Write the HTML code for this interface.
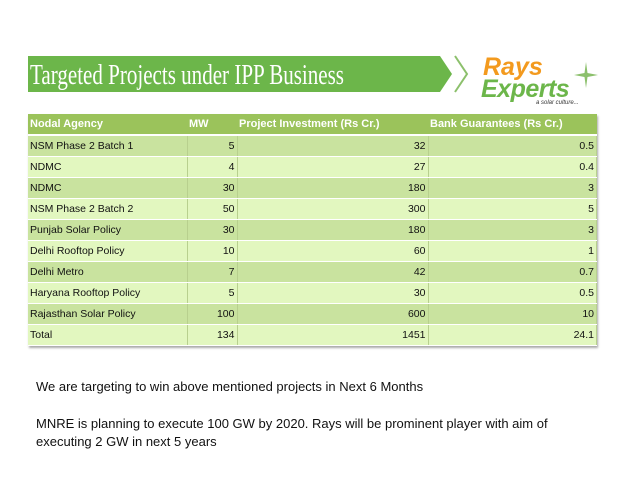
<!DOCTYPE html>
<html><head><meta charset="utf-8"><style>
body{margin:0;width:638px;height:493px;background:#fff;position:relative;overflow:hidden;font-family:"Liberation Sans",sans-serif}
.abs{position:absolute}
table{position:absolute;left:28px;top:114px;border-collapse:collapse;width:569px;font-size:10.5px;color:#111;box-shadow:1px 2px 2px #aaa}
td{height:20px;padding:0 2px;border-right:1px solid #b8d08e;border-bottom:1px solid #fff;white-space:nowrap}
th{height:20px;padding:0 2px;text-align:left;color:#fff;font-weight:bold;font-size:11px;background:#9bc35b;border-bottom:2px solid #fff}
tr.d td{background:#c9e39f}
tr.l td{background:#e2f7bf}
td.n{text-align:right}
p{position:absolute;margin:0;left:36px;font-size:13px;color:#111}
</style></head><body>
<svg class="abs" style="left:0;top:0" width="638" height="120">
<polygon points="28,56 440,56 452,74 440,92 28,92" fill="#6cb64a"/>
<polyline points="455,56 467,74 455,92" fill="none" stroke="#8cc06c" stroke-width="2"/>
<text x="30" y="84" font-family="Liberation Serif" font-size="28" fill="#fff" textLength="314" lengthAdjust="spacingAndGlyphs">Targeted Projects under IPP Business</text>
<g>
<text x="483" y="75" font-family="Liberation Sans" font-weight="bold" font-style="italic" font-size="25" fill="#f39a1e">Rays</text>
<text x="481" y="97" font-family="Liberation Sans" font-weight="bold" font-style="italic" font-size="25" fill="#6cb64a" letter-spacing="-0.5">Experts</text>
<text x="536" y="104" font-family="Liberation Sans" font-style="italic" font-size="6" fill="#333">a solar culture...</text>
<path d="M586,62 L587.5,73 L598,75 L587.5,77 L586,88 L584.5,77 L574,75 L584.5,73Z" fill="#8cc06c"/>
</g>
</svg>
<table>
<tr><th style="width:155px">Nodal Agency</th><th style="width:46px">MW</th><th style="width:187px">Project Investment (Rs Cr.)</th><th>Bank Guarantees (Rs Cr.)</th></tr>
<tr class="d"><td>NSM Phase 2 Batch 1</td><td class="n">5</td><td class="n">32</td><td class="n">0.5</td></tr>
<tr class="l"><td>NDMC</td><td class="n">4</td><td class="n">27</td><td class="n">0.4</td></tr>
<tr class="d"><td>NDMC</td><td class="n">30</td><td class="n">180</td><td class="n">3</td></tr>
<tr class="l"><td>NSM Phase 2 Batch 2</td><td class="n">50</td><td class="n">300</td><td class="n">5</td></tr>
<tr class="d"><td>Punjab Solar Policy</td><td class="n">30</td><td class="n">180</td><td class="n">3</td></tr>
<tr class="l"><td>Delhi Rooftop Policy</td><td class="n">10</td><td class="n">60</td><td class="n">1</td></tr>
<tr class="d"><td>Delhi Metro</td><td class="n">7</td><td class="n">42</td><td class="n">0.7</td></tr>
<tr class="l"><td>Haryana Rooftop Policy</td><td class="n">5</td><td class="n">30</td><td class="n">0.5</td></tr>
<tr class="d"><td>Rajasthan Solar Policy</td><td class="n">100</td><td class="n">600</td><td class="n">10</td></tr>
<tr class="l"><td>Total</td><td class="n">134</td><td class="n">1451</td><td class="n">24.1</td></tr>
</table>
<p style="top:379px">We are targeting to win above mentioned projects in Next 6 Months</p>
<p style="top:415px;line-height:18px">MNRE is planning to execute 100 GW by 2020. Rays will be prominent player with aim of<br>executing 2 GW in next 5 years</p>
</body></html>
